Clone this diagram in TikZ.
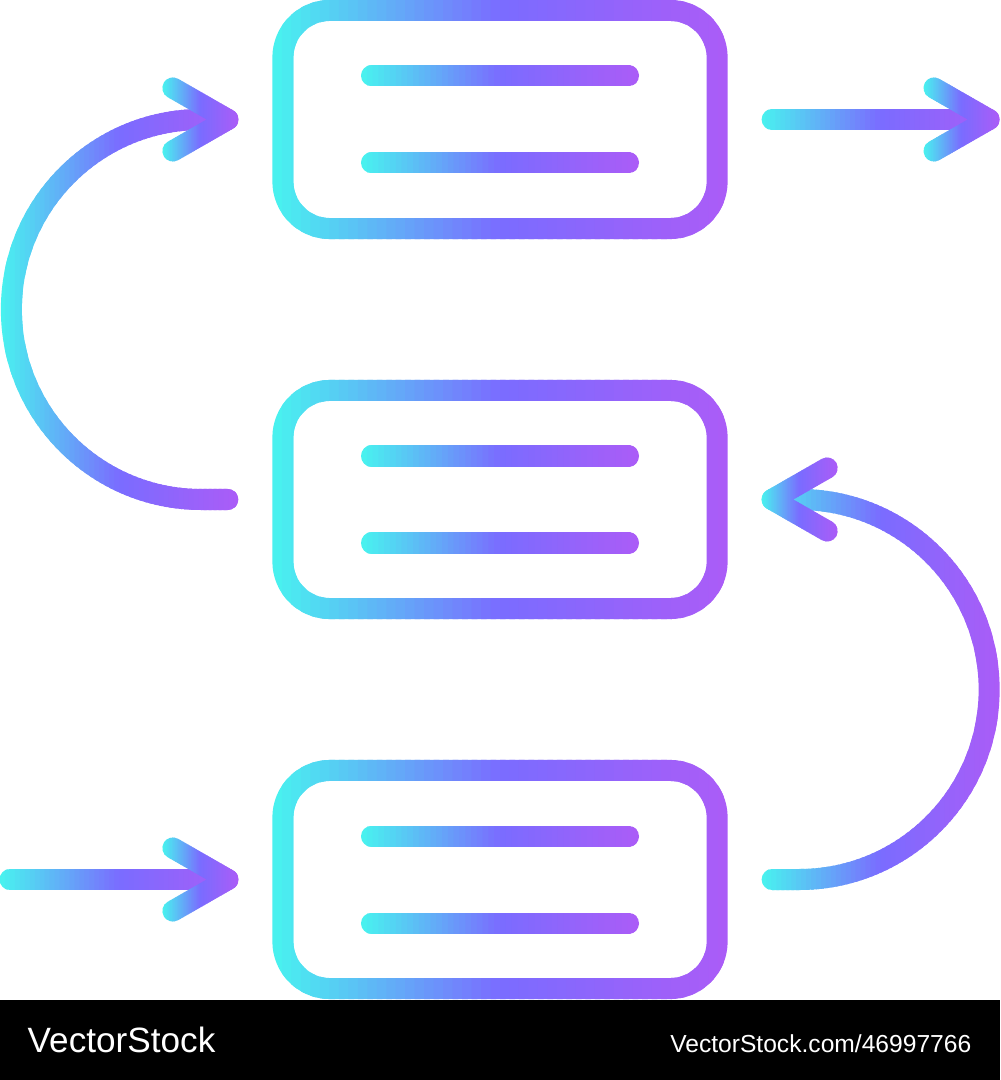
\documentclass[tikz,border=0pt]{standalone}
\usepackage{fontspec}
\setmainfont{Liberation Sans}
\usetikzlibrary{calc}
\definecolor{gA}{HTML}{48F4EF}
\definecolor{gB}{HTML}{7A6CFF}
\definecolor{gC}{HTML}{AB5CF7}
\tikzset{
  iconline/.style={line width=0.21cm, line cap=round, line join=round},
  boxnode/.style={minimum width=4.34cm, minimum height=2.18cm, inner sep=0pt, outer sep=0pt},
  wmtext/.style={text=white, inner sep=0pt}
}
% horizontal gradient stroke: #1 = left x, #2 = right x, #3 = path
\newcommand\gradstroke[3]{%
  \foreach \k in {0,...,47}{%
    \pgfmathsetmacro\gxa{#1+(#2-#1)/48*\k-(\k==0)*6}%
    \pgfmathsetmacro\gxb{#1+(#2-#1)/48*(\k+1.6)+(\k==47)*6}%
    \pgfmathsetmacro\gt{(\k+0.5)/48}%
    \ifdim\gt pt<0.5pt
      \pgfmathsetmacro\gp{\gt*200}\colorlet{gcur}{gB!\gp!gA}%
    \else
      \pgfmathsetmacro\gp{(\gt-0.5)*200}\colorlet{gcur}{gC!\gp!gB}%
    \fi
    \begin{scope}
      \clip (\gxa,-20) rectangle (\gxb,1100);
      \draw[iconline, draw=gcur] #3;
    \end{scope}
  }%
}
\begin{document}
\begin{tikzpicture}[x=0.01cm, y=-0.01cm]
\useasboundingbox (0,0) rectangle (1000,1080);
\fill[white] (0,0) rectangle (1000,1080);
\fill[black] (0,1000) rectangle (1000,1080);

% boxes (named, invisible); strokes drawn with gradient
\node[boxnode] (box1) at (500,119.5) {};
\node[boxnode] (box2) at (500,499.5) {};
\node[boxnode] (box3) at (500,879.5) {};

% connector end points
\coordinate (la1) at ($(box2.west)+(-55,0)$);
\coordinate (la2) at ($(box1.west)+(-55,0)$);
\coordinate (ra1) at ($(box3.east)+(55,0)$);
\coordinate (ra2) at ($(box2.east)+(55,0)$);
\coordinate (ta1) at ($(box1.east)+(55,0)$);
\coordinate (ta2) at (989,119.5);
\coordinate (ba1) at (10,879.5);
\coordinate (ba2) at ($(box3.west)+(-55,0)$);

% box outlines and inner lines
\foreach \bx in {box1,box2,box3}{
  \gradstroke{272.5}{727.5}{[rounded corners=0.47cm] (\bx.north west) rectangle (\bx.south east)}
  \gradstroke{361}{639}{($(\bx)+(-128.5,-43.5)$) -- ($(\bx)+(128.5,-43.5)$)}
  \gradstroke{361}{639}{($(\bx)+(-128.5,43.5)$) -- ($(\bx)+(128.5,43.5)$)}
}

% left curved arrow: box2 -> box1
\gradstroke{0}{238.5}{(la1) -- ++(-26.5,0) arc[start angle=90, end angle=270, radius=190] -- (la2)}
\gradstroke{162.5}{238.5}{($(la2)+(-55,-31.5)$) -- (la2) -- ($(la2)+(-55,31.5)$)}

% right curved arrow: box3 -> box2
\gradstroke{761.5}{999.5}{(ra1) -- ++(27,0) arc[start angle=90, end angle=-90, radius=190] -- (ra2)}
\gradstroke{761.5}{837.5}{($(ra2)+(55,-31.5)$) -- (ra2) -- ($(ra2)+(55,31.5)$)}

% top-right outgoing arrow
\gradstroke{760.5}{999.5}{(ta1) -- (ta2)}
\gradstroke{923.5}{999.5}{($(ta2)+(-55,-31.5)$) -- (ta2) -- ($(ta2)+(-55,31.5)$)}

% bottom-left incoming arrow
\gradstroke{0}{238.5}{(ba1) -- (ba2)}
\gradstroke{162.5}{238.5}{($(ba2)+(-55,-31.5)$) -- (ba2) -- ($(ba2)+(-55,31.5)$)}

% watermark banner text
\node[wmtext, anchor=base west, font=\fontsize{10}{12}\selectfont] (wm1) at (27,1052) {VectorStock};
\node[wmtext, anchor=base east, font=\fontsize{7}{9}\selectfont] (wm2) at (972,1052) {VectorStock.com/46997766};
\end{tikzpicture}
\end{document}
